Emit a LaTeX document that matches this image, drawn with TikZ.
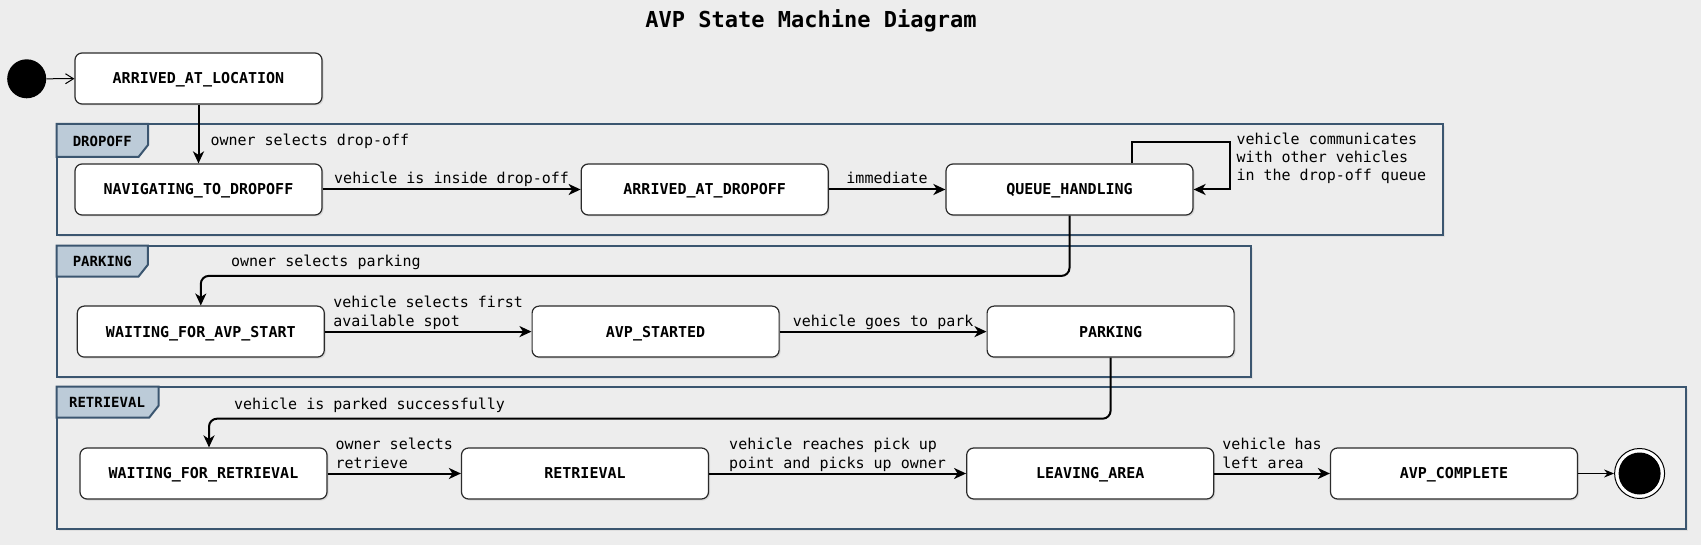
\documentclass[tikz,border=0pt]{standalone}
\usepackage{fontspec}
\usepackage{tikz}
\usetikzlibrary{arrows.meta, positioning, shadows}
\newfontfamily\avpmono{DejaVu Sans Mono}
\definecolor{framecol}{HTML}{3B5670}
\definecolor{tabcol}{HTML}{BCCBD8}
\definecolor{bgcol}{HTML}{EDEDED}
\definecolor{boxline}{HTML}{2B2B2B}

\begin{document}
\begin{tikzpicture}[
    x=1pt, y=1pt,
    state/.style={rectangle, rounded corners=7pt, draw=boxline, line width=1.2pt, fill=white, minimum width=247pt, minimum height=51pt, text height=10.9pt, text depth=0pt, font=\avpmono\bfseries\fontsize{15}{18}\selectfont, drop shadow={opacity=0.2, shadow xshift=1.5pt, shadow yshift=-1.5pt}},
    initstate/.style={circle, fill=black, minimum size=39pt, inner sep=0pt},
    endstate/.style={circle, draw=black, line width=1pt, fill=white, minimum size=50pt, inner sep=0pt},
    frame/.style={rectangle, draw=framecol, line width=2pt, fill=bgcol, anchor=north west, inner sep=0pt, outer sep=0pt, drop shadow={opacity=0.12, shadow xshift=2pt, shadow yshift=-2pt}},
    tab/.style={draw=framecol, line width=2pt, fill=tabcol},
    tablbl/.style={anchor=west, inner sep=0pt, font=\avpmono\bfseries\fontsize{14}{16}\selectfont},
    lbl/.style={inner sep=1pt, align=left, text depth=3.5pt, font=\avpmono\fontsize{15}{18.3}\selectfont},
    trans/.style={-{Stealth[length=12pt, width=11pt, inset=3.5pt]}, line width=2pt, draw=black},
    initarrow/.style={-{Straight Barb[length=8pt, width=10pt]}, line width=1pt, draw=black},
    finarrow/.style={-{Stealth[length=10pt, width=8pt]}, line width=1pt, draw=black}
]

\fill[bgcol] (0,0) rectangle (1701,-545);
\useasboundingbox (0,0) rectangle (1701,-545);

% Title
\node[font=\avpmono\bfseries\fontsize{22}{26}\selectfont, anchor=base] (title) at (811,-27.3) {AVP State Machine Diagram};

% Composite state frames
\node[frame, minimum width=1386.4pt, minimum height=111.5pt] (fdrop) at (56.6,-124) {};
\node[frame, minimum width=1194.4pt, minimum height=131pt] (fpark) at (56.6,-245.7) {};
\node[frame, minimum width=1629.4pt, minimum height=142pt] (fret) at (56.6,-386.7) {};

% Frame tabs
\draw[tab] (fdrop.north west) -- ++(91.4pt,0) -- ++(0,-21pt) -- ++(-9.5pt,-12pt) -- ++(-81.9pt,0) -- cycle;
\node[tablbl] (tdrop) at ([xshift=16pt,yshift=-17pt]fdrop.north west) {DROPOFF};
\draw[tab] (fpark.north west) -- ++(91.3pt,0) -- ++(0,-19pt) -- ++(-9.5pt,-12pt) -- ++(-81.8pt,0) -- cycle;
\node[tablbl] (tpark) at ([xshift=16pt,yshift=-15.5pt]fpark.north west) {PARKING};
\draw[tab] (fret.north west) -- ++(102pt,0) -- ++(0,-19pt) -- ++(-9.5pt,-12pt) -- ++(-92.5pt,0) -- cycle;
\node[tablbl] (tret) at ([xshift=12.3pt,yshift=-15.5pt]fret.north west) {RETRIEVAL};

% States
\node[initstate] (init) at (26.7,-78.8) {};
\node[state] (arrloc) at (198.5,-78.5) {ARRIVED\_AT\_LOCATION};

\node[state] (nav) at (198.5,-189.5) {NAVIGATING\_TO\_DROPOFF};
\node[state, right=258pt of nav] (arrdrop) {ARRIVED\_AT\_DROPOFF};
\node[state, right=116.6pt of arrdrop] (queue) {QUEUE\_HANDLING};

\node[state] (waitavp) at (200.8,-331.6) {WAITING\_FOR\_AVP\_START};
\node[state, right=206.6pt of waitavp] (avpstart) {AVP\_STARTED};
\node[state, right=206.8pt of avpstart] (parking) {PARKING};

\node[state] (waitret) at (203.5,-473.5) {WAITING\_FOR\_RETRIEVAL};
\node[state, right=133.3pt of waitret] (retr) {RETRIEVAL};
\node[state, right=257pt of retr] (leaving) {LEAVING\_AREA};
\node[state, right=115.6pt of leaving] (complete) {AVP\_COMPLETE};
\node[endstate, right=36pt of complete] (final) {};
\fill (final.center) circle (21pt);

% Transitions
\draw[initarrow] (init) -- (arrloc);
\draw[trans] (arrloc) -- node[lbl, right, pos=0.62, xshift=10pt] {owner selects drop-off} (nav);

\draw[trans] (nav) -- node[lbl, above] {vehicle is inside drop-off} (arrdrop);
\draw[trans] (arrdrop) -- node[lbl, above] {immediate} (queue);
\draw[trans] ([xshift=62pt]queue.north) |- ++(98pt,21pt) |- node[lbl, right, pos=0.17, xshift=5pt] {vehicle communicates\\with other vehicles\\in the drop-off queue} (queue.east);

\draw[trans, rounded corners=8pt] (queue.south) -- ++(0,-60.3pt) -| node[lbl, above, pos=0.428, yshift=4pt] {owner selects parking} (waitavp.north);

\draw[trans] (waitavp) -- node[lbl, above] {vehicle selects first\\available spot} (avpstart);
\draw[trans] (avpstart) -- node[lbl, above] {vehicle goes to park} (parking);

\draw[trans, rounded corners=8pt] (parking.south) -- ++(0,-61pt) -| node[lbl, above, pos=0.411, yshift=4pt] {vehicle is parked successfully} ([xshift=5.5pt]waitret.north);

\draw[trans] (waitret) -- node[lbl, above] {owner selects\\retrieve} (retr);
\draw[trans] (retr) -- node[lbl, above] {vehicle reaches pick up\\point and picks up owner} (leaving);
\draw[trans] (leaving) -- node[lbl, above] {vehicle has\\left area} (complete);
\draw[finarrow] (complete) -- (final);

\end{tikzpicture}
\end{document}
